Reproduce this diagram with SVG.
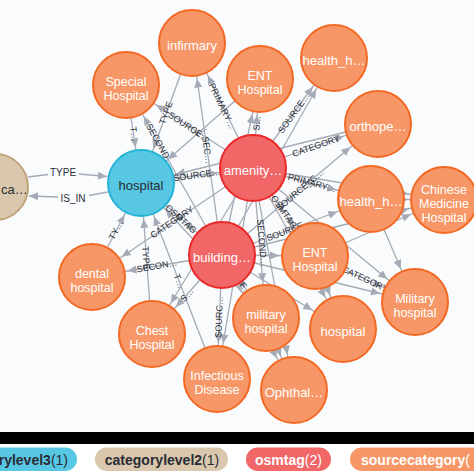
<svg xmlns="http://www.w3.org/2000/svg" width="474" height="474" viewBox="0 0 474 474">
<defs>
<style>
.e{stroke:#A5ABB6;stroke-width:1.3;fill:none;marker-end:url(#an)}
.s{stroke:#A5ABB6;stroke-width:1.3;fill:none}
.el{font-family:"Liberation Sans",Arial,sans-serif;font-size:9px;fill:#2A2C34;text-anchor:middle}
.el2{font-family:"Liberation Sans",Arial,sans-serif;font-size:10px;fill:#2A2C34;text-anchor:middle}
.n{stroke-width:2}
.o{fill:#F79767;stroke:#F36924}
.r{fill:#F16667;stroke:#EB2728}
.b{fill:#57C7E3;stroke:#23B3D7}
.t{fill:#D9C8AE;stroke:#C0A378}
.nt{font-family:"Liberation Sans",Arial,sans-serif;font-size:13px;fill:#FFFFFF;text-anchor:middle}
.m{font-size:12.5px}
.st{text-anchor:start}
.dk{fill:#2A2C34}
.lg{font-family:"Liberation Sans",Arial,sans-serif;font-size:14px}
.bd{font-weight:bold}
</style>
<marker id="an" viewBox="0 -5 46 10" refX="45" refY="0" markerWidth="46" markerHeight="10" markerUnits="userSpaceOnUse" orient="auto"><path d="M0,-4 L9,0 L0,4 z" fill="#A5ABB6"/></marker>
<marker id="ah" viewBox="0 -5 10 10" refX="9" refY="0" markerWidth="10" markerHeight="10" markerUnits="userSpaceOnUse" orient="auto"><path d="M0,-4 L9,0 L0,4 z" fill="#A5ABB6"/></marker>
</defs>
<rect x="0" y="0" width="474" height="432" fill="#F9FBFD"/>
<rect x="0" y="432" width="474" height="12" fill="#000000"/>
<rect x="0" y="444" width="474" height="30" fill="#FFFFFF"/>

<g id="connectors">
<path class="s" d="M28,177 L48,174.5"/>
<path class="s" d="M79,174 L107,176.5" marker-end="url(#ah)"/>
<path class="s" d="M108,192 L89,195.5"/>
<path class="s" d="M58,197 L29,196" marker-end="url(#ah)"/>
<text class="el2" x="63" y="176">TYPE</text>
<text class="el2" x="73" y="202">IS_IN</text>

<line class="e" x1="253" y1="168" x2="192" y2="43"/>
<line class="e" x1="253" y1="168" x2="126" y2="85"/>
<line class="e" x1="253" y1="168" x2="260" y2="79"/>
<line class="e" x1="253" y1="168" x2="334" y2="58"/>
<line class="e" x1="253" y1="168" x2="378" y2="124"/>
<line class="e" x1="253" y1="168" x2="371" y2="199"/>
<line class="e" x1="253" y1="168" x2="444" y2="200"/>
<line class="e" x1="253" y1="168" x2="315" y2="256"/>
<line class="e" x1="253" y1="168" x2="415" y2="302"/>
<line class="e" x1="253" y1="168" x2="343" y2="329"/>
<line class="e" x1="253" y1="168" x2="266" y2="318"/>
<line class="e" x1="253" y1="168" x2="294" y2="390"/>
<line class="e" x1="253" y1="168" x2="92" y2="277"/>
<line class="e" x1="253" y1="168" x2="152" y2="334"/>
<line class="e" x1="253" y1="168" x2="217" y2="379"/>

<line class="e" x1="222" y1="255" x2="192" y2="43"/>
<line class="e" x1="222" y1="255" x2="126" y2="85"/>
<line class="e" x1="222" y1="255" x2="260" y2="79"/>
<line class="e" x1="222" y1="255" x2="334" y2="58"/>
<line class="e" x1="222" y1="255" x2="378" y2="124"/>
<line class="e" x1="222" y1="255" x2="371" y2="199"/>
<line class="e" x1="222" y1="255" x2="444" y2="200"/>
<line class="e" x1="222" y1="255" x2="315" y2="256"/>
<line class="e" x1="222" y1="255" x2="415" y2="302"/>
<line class="e" x1="222" y1="255" x2="343" y2="329"/>
<line class="e" x1="222" y1="255" x2="266" y2="318"/>
<line class="e" x1="222" y1="255" x2="294" y2="390"/>
<line class="e" x1="222" y1="255" x2="92" y2="277"/>
<line class="e" x1="222" y1="255" x2="152" y2="334"/>
<line class="e" x1="222" y1="255" x2="217" y2="379"/>

<line class="e" x1="126" y1="85" x2="141" y2="183"/>
<line class="e" x1="192" y1="43" x2="141" y2="183"/>
<line class="e" x1="260" y1="79" x2="141" y2="183"/>
<line class="e" x1="92" y1="277" x2="141" y2="183"/>
<line class="e" x1="152" y1="334" x2="141" y2="183"/>
<line class="e" x1="217" y1="379" x2="141" y2="183"/>
<line class="e" x1="266" y1="318" x2="141" y2="183"/>
<line class="e" x1="378" y1="124" x2="141" y2="183"/>
<line class="e" x1="141" y1="183" x2="253" y2="168"/>
<line class="e" x1="141" y1="183" x2="222" y2="255"/>

<line class="e" x1="371" y1="199" x2="444" y2="200"/>
<line class="e" x1="315" y1="256" x2="415" y2="302"/>
<line class="e" x1="315" y1="256" x2="444" y2="200"/>
<line class="e" x1="371" y1="199" x2="415" y2="302"/>
<line class="e" x1="315" y1="256" x2="343" y2="329"/>
<line class="e" x1="266" y1="318" x2="294" y2="390"/>

<text class="el" dy="3" transform="translate(222,106) rotate(64)">PRIMARY…</text>
<text class="el" dy="3" transform="translate(189,127) rotate(33)">SOURCE…</text>
<text class="el" dy="3" transform="translate(257,123) rotate(-85)">S…</text>
<text class="el" dy="3" transform="translate(294,113) rotate(-54)">SOURCE…</text>
<text class="el" dy="3" transform="translate(316,146) rotate(-19)">CATEGORY</text>
<text class="el" dy="3" transform="translate(312,183) rotate(15)">PRIMARY…</text>
<text class="el" dy="3" transform="translate(284,212) rotate(55)">OSMTAG</text>
<text class="el" dy="3" transform="translate(262,243) rotate(85)">SECOND…</text>
<text class="el" dy="3" transform="translate(172,222) rotate(-34)">CATEGORY</text>
<text class="el" dy="3" transform="translate(207,150) rotate(82)">SEC…</text>
<text class="el" dy="3" transform="translate(160,145) rotate(61)">SECOND…</text>
<text class="el" dy="3" transform="translate(300,190) rotate(-40)">SOURCE_C…</text>
<text class="el" dy="3" transform="translate(289,230) rotate(-21)">SOURCE…</text>
<text class="el" dy="3" transform="translate(244,287) rotate(55)">SE…</text>
<text class="el" dy="3" transform="translate(157,266) rotate(-10)">SECON…</text>
<text class="el" dy="3" transform="translate(187,295) rotate(-48)">S…</text>
<text class="el" dy="3" transform="translate(219,317) rotate(-88)">SOURC…</text>
<text class="el" dy="3" transform="translate(134,134) rotate(81)">T…</text>
<text class="el" dy="3" transform="translate(166,113) rotate(-70)">TYPE</text>
<text class="el" dy="3" transform="translate(200,131) rotate(-41)">T…</text>
<text class="el" dy="3" transform="translate(116,230) rotate(-62)">TY…</text>
<text class="el" dy="3" transform="translate(146,258) rotate(86)">TYPE</text>
<text class="el" dy="3" transform="translate(179,281) rotate(69)">T…</text>
<text class="el" dy="3" transform="translate(197,175) rotate(-8)">SOURCE…</text>
<text class="el" dy="3" transform="translate(181,219) rotate(42)">OSMTAG</text>
<text class="el" dy="3" transform="translate(365,279) rotate(25)">CATEGORY</text>
</g>

<g id="node-categorylevel2"><circle class="n t" cx="-5" cy="187" r="33"/><text class="nt dk st" x="1" y="193.5">ca…</text></g>
<g id="node-hospital-type"><circle class="n b" cx="141" cy="183" r="33"/><text class="nt dk" x="141" y="189.5">hospital</text></g>
<g id="node-amenity"><circle class="n r" cx="253" cy="168" r="33"/><text class="nt" x="253" y="174.5">amenity…</text></g>
<g id="node-building"><circle class="n r" cx="222" cy="255" r="33"/><text class="nt" x="222" y="261.5">building…</text></g>

<g id="node-infirmary"><circle class="n o" cx="192" cy="43" r="33"/><text class="nt" x="192" y="49.5">infirmary</text></g>
<g id="node-special-hospital"><circle class="n o" cx="126" cy="85" r="33"/><text class="nt m" x="126" y="85.5">Special<tspan x="126" dy="14.4">Hospital</tspan></text></g>
<g id="node-ent-hospital-1"><circle class="n o" cx="260" cy="79" r="33"/><text class="nt m" x="260" y="79.5">ENT<tspan x="260" dy="14.4">Hospital</tspan></text></g>
<g id="node-health-1"><circle class="n o" cx="334" cy="58" r="33"/><text class="nt" x="334" y="64.5">health_h…</text></g>
<g id="node-orthopedic"><circle class="n o" cx="378" cy="124" r="33"/><text class="nt" x="378" y="130.5">orthope…</text></g>
<g id="node-health-2"><circle class="n o" cx="371" cy="199" r="33"/><text class="nt" x="371" y="205.5">health_h…</text></g>
<g id="node-chinese-medicine"><circle class="n o" cx="444" cy="200" r="33"/><text class="nt m" x="444" y="193.5">Chinese<tspan x="444" dy="14.4">Medicine</tspan><tspan x="444" dy="14.4">Hospital</tspan></text></g>
<g id="node-ent-hospital-2"><circle class="n o" cx="315" cy="256" r="33"/><text class="nt m" x="315" y="256.5">ENT<tspan x="315" dy="14.4">Hospital</tspan></text></g>
<g id="node-military-hospital-cap"><circle class="n o" cx="415" cy="302" r="33"/><text class="nt m" x="415" y="302.5">Military<tspan x="415" dy="14.4">hospital</tspan></text></g>
<g id="node-hospital-orange"><circle class="n o" cx="343" cy="329" r="33"/><text class="nt" x="343" y="335.5">hospital</text></g>
<g id="node-military-hospital"><circle class="n o" cx="266" cy="318" r="33"/><text class="nt m" x="266" y="318.5">military<tspan x="266" dy="14.4">hospital</tspan></text></g>
<g id="node-ophthalmic"><circle class="n o" cx="294" cy="390" r="33"/><text class="nt" x="294" y="396.5">Ophthal…</text></g>
<g id="node-dental"><circle class="n o" cx="92" cy="277" r="33"/><text class="nt m" x="92" y="277.5">dental<tspan x="92" dy="14.4">hospital</tspan></text></g>
<g id="node-chest"><circle class="n o" cx="152" cy="334" r="33"/><text class="nt m" x="152" y="334.5">Chest<tspan x="152" dy="14.4">Hospital</tspan></text></g>
<g id="node-infectious"><circle class="n o" cx="217" cy="379" r="33"/><text class="nt m" x="217" y="379.5">Infectious<tspan x="217" dy="14.4">Disease</tspan></text></g>

<g id="legend">
<rect x="-40" y="447.5" width="117" height="23.5" rx="11.7" fill="#57C7E3"/>
<text class="lg dk" x="68" y="465" text-anchor="end"><tspan class="bd">rylevel3</tspan>(1)</text>
<rect x="95" y="447.5" width="133" height="23.5" rx="11.7" fill="#D9C8AE"/>
<text class="lg dk" x="162" y="465" text-anchor="middle"><tspan class="bd">categorylevel2</tspan>(1)</text>
<rect x="246" y="447.5" width="85" height="23.5" rx="11.7" fill="#F16667"/>
<text class="lg" x="288.5" y="465" text-anchor="middle" fill="#FFFFFF"><tspan class="bd">osmtag</tspan>(2)</text>
<rect x="350" y="447.5" width="160" height="23.5" rx="11.7" fill="#F79767"/>
<text class="lg" x="361" y="465" fill="#FFFFFF"><tspan class="bd">sourcecategory</tspan>(</text>
</g>
</svg>
